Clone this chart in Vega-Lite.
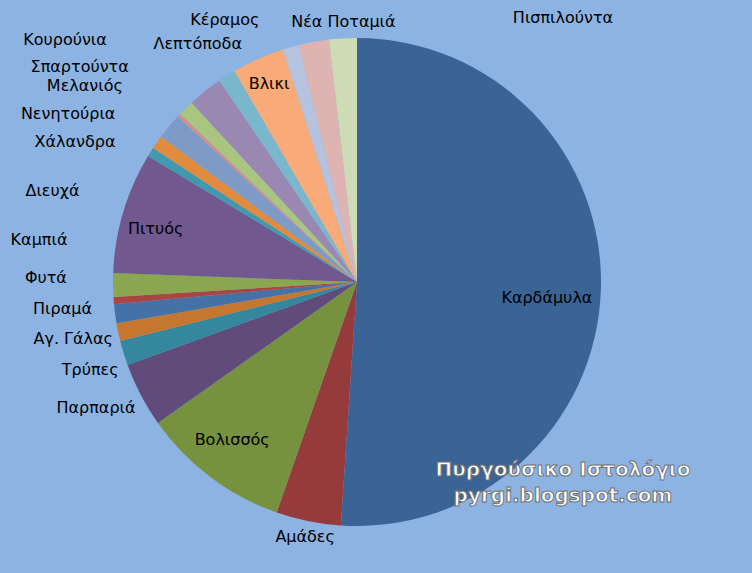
{
  "$schema": "https://vega.github.io/schema/vega-lite/v6.json",
  "width": 714,
  "height": 564,
  "autosize": {"type": "none"},
  "padding": {"left": 0, "top": 0, "right": 38, "bottom": 9},
  "background": "#8DB3E2",
  "view": {"stroke": null},
  "title": {
    "text": ["Πυργούσικο Ιστολόγιο", "pyrgi.blogspot.com"],
    "orient": "bottom",
    "anchor": "middle",
    "align": "center",
    "baseline": "top",
    "offset": -111,
    "dx": 206,
    "font": "DejaVu Sans",
    "fontSize": 20,
    "fontWeight": "bold",
    "color": "white",
    "lineHeight": 26,
    "frame": "group"
  },
  "config": {
    "title": {"fontWeight": "bold"},
    "style": {"group-title": {"stroke": "#707070", "strokeWidth": 1}},
    "text": {"font": "DejaVu Sans", "fontSize": 16, "color": "black"}
  },
  "data": {
    "values": [
      {"order": 1, "town": "Καρδάμυλα", "value": 51.06},
      {"order": 2, "town": "Αμάδες", "value": 4.28},
      {"order": 3, "town": "Βολισσός", "value": 9.86},
      {"order": 4, "town": "Παρπαριά", "value": 4.28},
      {"order": 5, "town": "Τρύπες", "value": 1.64},
      {"order": 6, "town": "Αγ. Γάλας", "value": 1.19},
      {"order": 7, "town": "Πιραμά", "value": 1.25},
      {"order": 8, "town": "Φυτά", "value": 0.47},
      {"order": 9, "town": "Καμπιά", "value": 1.56},
      {"order": 10, "town": "Πιτυός", "value": 8.06},
      {"order": 11, "town": "Διευχά", "value": 0.61},
      {"order": 12, "town": "Χάλανδρα", "value": 0.92},
      {"order": 13, "town": "Νενητούρια", "value": 1.69},
      {"order": 14, "town": "Μελανιός", "value": 0.22},
      {"order": 15, "town": "Σπαρτούντα", "value": 1.06},
      {"order": 16, "town": "Κουρούνια", "value": 2.31},
      {"order": 17, "town": "Λεπτόποδα", "value": 1.17},
      {"order": 18, "town": "Βλικι", "value": 3.47},
      {"order": 19, "town": "Κέραμος", "value": 1.08},
      {"order": 20, "town": "Νέα Ποταμιά", "value": 2.0},
      {"order": 21, "town": "Πισπιλούντα", "value": 1.83}
    ]
  },
  "encoding": {
    "theta": {"field": "value", "type": "quantitative", "stack": true},
    "order": {"field": "order", "type": "quantitative"}
  },
  "layer": [
    {
      "mark": {"type": "arc", "radius": 244},
      "encoding": {
        "color": {
          "field": "town",
          "type": "nominal",
          "legend": null,
          "scale": {
            "domain": ["Καρδάμυλα", "Αμάδες", "Βολισσός", "Παρπαριά", "Τρύπες", "Αγ. Γάλας", "Πιραμά", "Φυτά", "Καμπιά", "Πιτυός", "Διευχά", "Χάλανδρα", "Νενητούρια", "Μελανιός", "Σπαρτούντα", "Κουρούνια", "Λεπτόποδα", "Βλικι", "Κέραμος", "Νέα Ποταμιά", "Πισπιλούντα"],
            "range": ["#3B6496", "#953B3B", "#77923E", "#604B7B", "#34879C", "#C5772F", "#4472A6", "#A94643", "#8AA64F", "#715990", "#4199B0", "#E18B3E", "#7E9BC8", "#D38E8C", "#AAC57F", "#9A87B2", "#79B7CC", "#F8AA78", "#B5C3DE", "#DEB4B3", "#CDDCB5"]
          }
        }
      }
    },
    {"mark": {"type": "text", "radius": 190, "dy": 10}, "encoding": {"text": {"condition": {"test": "datum.town === 'Καρδάμυλα'", "field": "town"}, "value": ""}}},
    {"mark": {"type": "text", "radius": 260}, "encoding": {"text": {"condition": {"test": "datum.town === 'Αμάδες'", "field": "town"}, "value": ""}}},
    {"mark": {"type": "text", "radius": 201, "dx": -4, "dy": -3}, "encoding": {"text": {"condition": {"test": "datum.town === 'Βολισσός'", "field": "town"}, "value": ""}}},
    {"mark": {"type": "text", "radius": 290, "dx": -4, "dy": -8}, "encoding": {"text": {"condition": {"test": "datum.town === 'Παρπαριά'", "field": "town"}, "value": ""}}},
    {"mark": {"type": "text", "radius": 281, "dx": 2, "dy": 6}, "encoding": {"text": {"condition": {"test": "datum.town === 'Τρύπες'", "field": "town"}, "value": ""}}},
    {"mark": {"type": "text", "radius": 290, "dy": -3}, "encoding": {"text": {"condition": {"test": "datum.town === 'Αγ. Γάλας'", "field": "town"}, "value": ""}}},
    {"mark": {"type": "text", "radius": 297, "dy": -12}, "encoding": {"text": {"condition": {"test": "datum.town === 'Πιραμά'", "field": "town"}, "value": ""}}},
    {"mark": {"type": "text", "radius": 310, "dx": -2, "dy": -28}, "encoding": {"text": {"condition": {"test": "datum.town === 'Φυτά'", "field": "town"}, "value": ""}}},
    {"mark": {"type": "text", "radius": 318, "dy": -46}, "encoding": {"text": {"condition": {"test": "datum.town === 'Καμπιά'", "field": "town"}, "value": ""}}},
    {"mark": {"type": "text", "radius": 208, "dx": -2, "dy": 6}, "encoding": {"text": {"condition": {"test": "datum.town === 'Πιτυός'", "field": "town"}, "value": ""}}},
    {"mark": {"type": "text", "radius": 244, "dx": -98, "dy": 39}, "encoding": {"text": {"condition": {"test": "datum.town === 'Διευχά'", "field": "town"}, "value": ""}}},
    {"mark": {"type": "text", "radius": 244, "dx": -82, "dy": 0}, "encoding": {"text": {"condition": {"test": "datum.town === 'Χάλανδρα'", "field": "town"}, "value": ""}}},
    {"mark": {"type": "text", "radius": 244, "dx": -101, "dy": -12}, "encoding": {"text": {"condition": {"test": "datum.town === 'Νενητούρια'", "field": "town"}, "value": ""}}},
    {"mark": {"type": "text", "radius": 244, "dx": -94, "dy": -29}, "encoding": {"text": {"condition": {"test": "datum.town === 'Μελανιός'", "field": "town"}, "value": ""}}},
    {"mark": {"type": "text", "radius": 244, "dx": -106, "dy": -41}, "encoding": {"text": {"condition": {"test": "datum.town === 'Σπαρτούντα'", "field": "town"}, "value": ""}}},
    {"mark": {"type": "text", "radius": 244, "dx": -140, "dy": -51}, "encoding": {"text": {"condition": {"test": "datum.town === 'Κουρούνια'", "field": "town"}, "value": ""}}},
    {"mark": {"type": "text", "radius": 244, "dx": -29, "dy": -32}, "encoding": {"text": {"condition": {"test": "datum.town === 'Λεπτόποδα'", "field": "town"}, "value": ""}}},
    {"mark": {"type": "text", "radius": 217}, "encoding": {"text": {"condition": {"test": "datum.town === 'Βλικι'", "field": "town"}, "value": ""}}},
    {"mark": {"type": "text", "radius": 244, "dx": -66, "dy": -27}, "encoding": {"text": {"condition": {"test": "datum.town === 'Κέραμος'", "field": "town"}, "value": ""}}},
    {"mark": {"type": "text", "radius": 258, "dx": 32, "dy": -6}, "encoding": {"text": {"condition": {"test": "datum.town === 'Νέα Ποταμιά'", "field": "town"}, "value": ""}}},
    {"mark": {"type": "text", "radius": 244, "dx": 220, "dy": -20}, "encoding": {"text": {"condition": {"test": "datum.town === 'Πισπιλούντα'", "field": "town"}, "value": ""}}}
  ]
}
